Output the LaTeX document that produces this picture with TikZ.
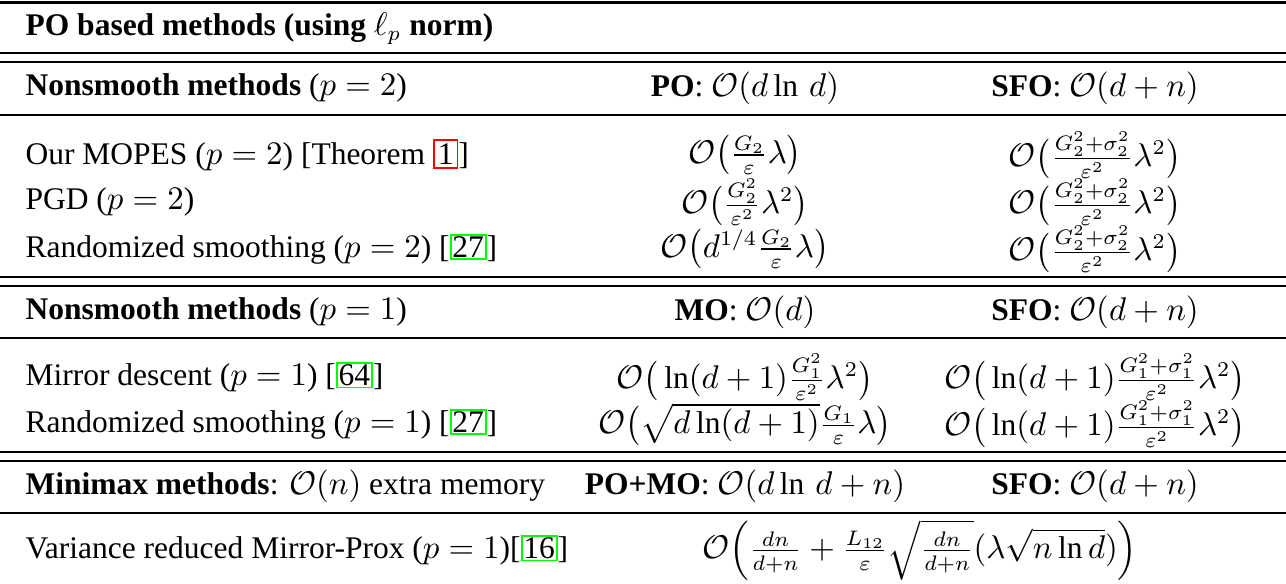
\documentclass[tikz,border=0pt]{standalone}
\usepackage{fontspec}
\setmainfont{Liberation Serif}
\usepackage{amsmath}
\newcommand\rref[1]{{\setlength\fboxsep{1pt}\setlength\fboxrule{0.6pt}\textcolor{red}{\fbox{\textcolor{black}{#1}}}}}
\newcommand\gref[1]{{\setlength\fboxsep{0.3pt}\setlength\fboxrule{0.6pt}\textcolor{green}{\fbox{\textcolor{black}{#1}}}}}
\begin{document}
\begin{tikzpicture}[x=0.3333pt,y=-0.3333pt,
  lt/.style={anchor=west,inner sep=0pt,font=\fontsize{10.5}{12}\selectfont},
  ct/.style={anchor=center,inner sep=0pt,font=\fontsize{10.5}{12}\selectfont},
  rl/.style={line width=0.5pt},
  tk/.style={line width=1pt}]
\useasboundingbox (0,0) rectangle (1286,583);
\draw[tk] (0,2) -- (1286,2);
\draw[rl] (0,53) -- (1286,53); \draw[rl] (0,62) -- (1286,62);
\draw[rl] (0,115) -- (1286,115);
\draw[rl] (0,277) -- (1286,277); \draw[rl] (0,286) -- (1286,286);
\draw[rl] (0,338) -- (1286,338);
\draw[rl] (0,452) -- (1286,452); \draw[rl] (0,461) -- (1286,461);
\draw[rl] (0,513) -- (1286,513);

\node[lt] (t) at (25,29) {\textbf{PO based methods (using $\ell_p$ norm)}};
\node[lt] (h1) at (25,88) {\textbf{Nonsmooth methods} ($p=2$)};
\node[ct] (h1b) at (745,88) {\textbf{PO}: $\mathcal{O}(d\ln\, d)$};
\node[ct] (h1c) at (1095,88) {\textbf{SFO}: $\mathcal{O}(d+n)$};
\node[lt] (r1) at (25,155) {Our MOPES ($p=2$) [Theorem \rref{1}]};
\node[ct] (r1b) at (745,155) {$\mathcal{O}\big(\frac{G_2}{\varepsilon}\lambda\big)$};
\node[ct] (r1c) at (1095,155) {$\mathcal{O}\big(\frac{G_2^2+\sigma_2^2}{\varepsilon^2}\lambda^2\big)$};
\node[lt] (r2) at (25,202) {PGD ($p=2$)};
\node[ct] (r2b) at (745,202) {$\mathcal{O}\big(\frac{G_2^2}{\varepsilon^2}\lambda^2\big)$};
\node[ct] (r2c) at (1095,202) {$\mathcal{O}\big(\frac{G_2^2+\sigma_2^2}{\varepsilon^2}\lambda^2\big)$};
\node[lt] (r3) at (25,249) {Randomized smoothing ($p=2$) [\gref{27}]};
\node[ct] (r3b) at (745,249) {$\mathcal{O}\big(d^{1/4}\frac{G_2}{\varepsilon}\lambda\big)$};
\node[ct] (r3c) at (1095,249) {$\mathcal{O}\big(\frac{G_2^2+\sigma_2^2}{\varepsilon^2}\lambda^2\big)$};

\node[lt] (h2) at (25,312) {\textbf{Nonsmooth methods} ($p=1$)};
\node[ct] (h2b) at (745,312) {\textbf{MO}: $\mathcal{O}(d)$};
\node[ct] (h2c) at (1095,312) {\textbf{SFO}: $\mathcal{O}(d+n)$};
\node[lt] (r4) at (25,377) {Mirror descent ($p=1$) [\gref{64}]};
\node[ct] (r4b) at (745,377) {$\mathcal{O}\big(\ln(d+1)\frac{G_1^2}{\varepsilon^2}\lambda^2\big)$};
\node[ct] (r4c) at (1095,377) {$\mathcal{O}\big(\ln(d+1)\frac{G_1^2+\sigma_1^2}{\varepsilon^2}\lambda^2\big)$};
\node[lt] (r5) at (25,424) {Randomized smoothing ($p=1$) [\gref{27}]};
\node[ct] (r5b) at (745,424) {$\mathcal{O}\big(\sqrt{d\ln(d+1)}\frac{G_1}{\varepsilon}\lambda\big)$};
\node[ct] (r5c) at (1095,424) {$\mathcal{O}\big(\ln(d+1)\frac{G_1^2+\sigma_1^2}{\varepsilon^2}\lambda^2\big)$};

\node[lt] (h3) at (25,486) {\textbf{Minimax methods}: $\mathcal{O}(n)$ extra memory};
\node[ct] (h3b) at (745,486) {\textbf{PO+MO}: $\mathcal{O}(d\ln\, d+n)$};
\node[ct] (h3c) at (1095,486) {\textbf{SFO}: $\mathcal{O}(d+n)$};
\node[lt] (r6) at (25,550) {Variance reduced Mirror-Prox ($p=1$)[\gref{16}]};
\node[ct] (r6b) at (920,550) {$\mathcal{O}\Big(\frac{dn}{d+n}+\frac{L_{12}}{\varepsilon}\sqrt{\frac{dn}{d+n}}(\lambda\sqrt{n\ln d})\Big)$};
\end{tikzpicture}
\end{document}
